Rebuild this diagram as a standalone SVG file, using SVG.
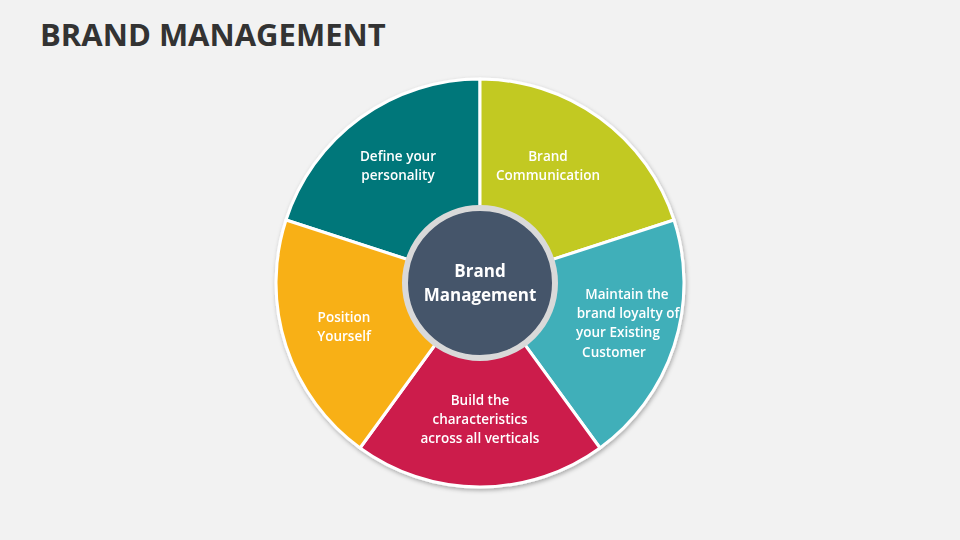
<svg xmlns="http://www.w3.org/2000/svg" width="960" height="540" viewBox="0 0 960 540">
<style>
.seg{stroke:#fff;stroke-width:3;stroke-linejoin:round}
.lbl{font-family:"Open Sans","Liberation Sans",sans-serif;font-size:13.5px;font-weight:600;fill:#fff;text-anchor:middle}
.ctr{font-size:17px;font-weight:700}
</style>
<defs><filter id="sh" x="-20%" y="-20%" width="140%" height="140%"><feDropShadow dx="1" dy="2" stdDeviation="2" flood-opacity="0.3"/></filter></defs>
<rect width="960" height="540" fill="#f2f2f2"/>
<text x="40" y="46" font-family="'Open Sans','Liberation Sans',sans-serif" font-size="31" font-weight="700" fill="#333">BRAND MANAGEMENT</text>
<g id="nodes" filter="url(#sh)">
<g id="n1"><path class="seg" fill="#00777A" d="M480,283 L286,220 A204,204 0 0 1 480,79 Z"/><text class="lbl" x="398" y="161">Define your</text><text class="lbl" x="398" y="180">personality</text></g>
<g id="n2"><path class="seg" fill="#C2C923" d="M480,283 L480,79 A204,204 0 0 1 674,220 Z"/><text class="lbl" x="548" y="161">Brand</text><text class="lbl" x="548" y="180">Communication</text></g>
<g id="n3"><path class="seg" fill="#40AFB9" d="M480,283 L674,220 A204,204 0 0 1 600,448 Z"/><text class="lbl" x="627" y="299">Maintain the</text><text class="lbl" x="628" y="318">brand loyalty of</text><text class="lbl" x="618" y="337">your Existing</text><text class="lbl" x="614" y="357">Customer</text></g>
<g id="n4"><path class="seg" fill="#CC1A4B" d="M480,283 L600,448 A204,204 0 0 1 360,448 Z"/><text class="lbl" x="480" y="405">Build the</text><text class="lbl" x="480" y="424">characteristics</text><text class="lbl" x="480" y="443">across all verticals</text></g>
<g id="n5"><path class="seg" fill="#F8B018" d="M480,283 L360,448 A204,204 0 0 1 286,220 Z"/><text class="lbl" x="344" y="322">Position</text><text class="lbl" x="344" y="341">Yourself</text></g>
<g id="center"><circle cx="480" cy="283" r="75" fill="#44546A" stroke="#D9D9D9" stroke-width="6"/><text class="lbl ctr" x="480" y="277">Brand</text><text class="lbl ctr" x="480" y="301">Management</text></g>
</g>
<g id="connectors"/>
</svg>
